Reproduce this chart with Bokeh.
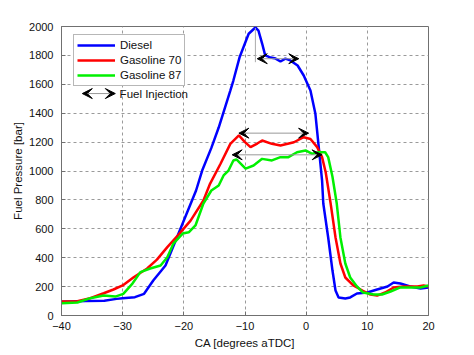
from bokeh.plotting import figure
from bokeh.models import (Arrow, VeeHead, Legend, LegendItem, Label, Range1d,
                          FixedTicker)
from bokeh.embed import file_html
from bokeh.resources import INLINE

# ---------------- data ----------------
diesel_x = [-40, -36, -33, -31, -30, -28, -26.5, -25, -23, -21, -20, -18, -17, -15.5, -14.3,
            -12.4, -11.9, -10.9, -9.4, -8.3, -7.8, -7.2, -6.7, -5.8, -5, -4.2, -3.4, -2.6,
            -1.4, -0.4, 0.7, 1.5, 2.0, 2.6, 2.8, 3.6, 4.3, 4.8, 5.3, 6.4, 7.2, 8.3, 10, 11.6,
            13.3, 14.3, 15.4, 17, 18.7, 20]
diesel_y = [95, 100, 102, 115, 120, 127, 150, 242, 346, 553, 657, 865, 1003, 1160, 1301,
            1557, 1626, 1785, 1950, 1993, 1972, 1882, 1800, 1785, 1778, 1758, 1778, 1765,
            1730, 1661, 1557, 1398, 1190, 934, 775, 540, 311, 173, 125, 118, 125, 152, 159, 180,
            201, 228, 221, 201, 187, 194]

gas70_x = [-40, -37.4, -35.3, -33.1, -31.5, -30, -28.2, -26, -24.4, -22.7, -21, -18.9, -16.8,
           -15.7, -14, -12.4, -11.0, -10.0, -9.1, -8.0, -7.2, -5.6, -4.2, -2.0, -0.4, 0.7, 1.8,
           2.6, 3.2, 4.0, 4.8, 5.6, 6.4, 7.7, 9.2, 10.5, 11.6, 12.9, 14.3, 15.9, 18.2, 19.2, 20]
gas70_y = [97, 99, 120, 154, 180, 208, 265, 325, 387, 473, 553, 657, 796,
           913, 1050, 1188, 1246, 1200, 1165, 1190, 1211, 1188, 1176, 1199, 1234, 1222, 1165,
           1096, 990, 775, 540, 360, 263, 208, 173, 145, 138, 159, 194, 201, 201, 208, 201]

gas87_x = [-40, -37.4, -35.3, -33.1, -31.2, -29.9, -28.4, -27.1, -25.5, -23.8, -22.7, -21.7,
           -20.2, -19.2, -18.1, -16.8, -15.5, -14.3, -13.5, -12.7, -11.9, -11.4, -9.9, -8.6,
           -7.2, -5.6, -4.2, -2.9, -1.5, -0.1, 1.0, 2.0, 3.1, 3.6, 4.3, 5.0, 5.6, 6.4, 7.2, 8.3,
           9.3, 11, 12.4, 13.8, 15.4, 17, 18.7, 20]
gas87_y = [85, 90, 120, 138, 131, 150, 221, 300, 325, 346, 403, 498,
           567, 576, 623, 775, 865, 900, 969, 1003, 1073, 1080, 1017, 1038,
           1084, 1073, 1096, 1096, 1130, 1142, 1119, 1130, 1130, 1096, 960, 775, 540, 360, 263, 201,
           159, 145, 145, 166, 194, 194, 194, 208]

series_names = ["Diesel", "Gasoline 70", "Gasoline 87"]
series_colors = ["#0000ff", "#ff0000", "#00f000"]

# fuel injection windows (start, end, level) per fuel
inj_start = [-8.0, -11.0, -12.1]
inj_end = [-1.2, 0.4, 2.6]
inj_level = [1777, 1262, 1112]
diesel_peak_x = -8.3
diesel_peak_y = [1753, 1990]

x_ticks = [-40, -30, -20, -10, 0, 10, 20]
y_ticks = [0, 200, 400, 600, 800, 1000, 1200, 1400, 1600, 1800, 2000]

FONT = "Liberation Sans"

p = figure(width=474, height=355, output_backend="svg", toolbar_location=None,
           x_range=Range1d(-40, 20), y_range=Range1d(0, 2000),
           min_border_left=61, min_border_right=46, min_border_top=26, min_border_bottom=40)
p.background_fill_color = "white"
p.border_fill_color = "white"
p.outline_line_color = "#707070"
p.outline_line_width = 1

for ax in (p.xaxis[0], p.yaxis[0]):
    ax.major_tick_in = 4
    ax.major_tick_out = 0
    ax.minor_tick_line_color = None
    ax.axis_line_color = "#707070"
    ax.major_tick_line_color = "#707070"
    ax.major_label_text_font = FONT
    ax.major_label_text_font_size = "11px"
    ax.major_label_text_color = "#111111"
    ax.axis_label_text_font = FONT
    ax.axis_label_text_font_size = "11.5px"
    ax.axis_label_text_font_style = "normal"
    ax.axis_label_text_color = "#111111"

p.xaxis.ticker = FixedTicker(ticks=x_ticks)
p.yaxis.ticker = FixedTicker(ticks=y_ticks)
p.xaxis.axis_label = "CA [degrees aTDC]"
p.yaxis.axis_label = "Fuel Pressure [bar]"
p.xaxis.major_label_standoff = 6
p.yaxis.major_label_standoff = 8
p.xaxis.axis_label_standoff = 4
p.yaxis.axis_label_standoff = 2

p.grid.grid_line_color = "#9a9a9a"
p.grid.grid_line_dash = "3 3"
p.grid.grid_line_width = 1

renderers = []
for xs, ys, c in zip([diesel_x, gas70_x, gas87_x], [diesel_y, gas70_y, gas87_y], series_colors):
    r = p.line(xs, ys, line_color=c, line_width=2.5)
    renderers.append(r)

# vertical marker at diesel peak
p.line([diesel_peak_x, diesel_peak_x], diesel_peak_y, line_color="#aaaaaa", line_width=1)

# injection arrows
for s, e, lv in zip(inj_start, inj_end, inj_level):
    p.add_layout(Arrow(x_start=s, x_end=e, y_start=lv, y_end=lv,
                       line_color="#999999", line_width=1,
                       start=VeeHead(size=10, fill_color="black", line_color="black"),
                       end=VeeHead(size=10, fill_color="black", line_color="black")))

legend = Legend(items=[LegendItem(label=n, renderers=[r]) for n, r in zip(series_names, renderers)],
                location=(12, 229), padding=3, spacing=1, margin=0,
                label_height=14, glyph_height=14, glyph_width=38, label_standoff=5,
                label_text_font=FONT, label_text_font_size="11.5px",
                label_text_color="#111111",
                border_line_color="#707070", border_line_width=1,
                background_fill_color="white", background_fill_alpha=1.0)
p.add_layout(legend)

# "Fuel Injection" legend entry (drawn below the legend box)
p.add_layout(Arrow(x_start=-36.6, x_end=-31.2, y_start=1536, y_end=1536,
                   line_color="#999999", line_width=1,
                   start=VeeHead(size=10, fill_color="black", line_color="black"),
                   end=VeeHead(size=10, fill_color="black", line_color="black")))
p.add_layout(Label(x=-30.5, y=1536, text="Fuel Injection", text_font=FONT,
                   text_font_size="11.5px", text_baseline="middle", text_color="#111111"))

open("out.html", "w").write(file_html(p, INLINE))
